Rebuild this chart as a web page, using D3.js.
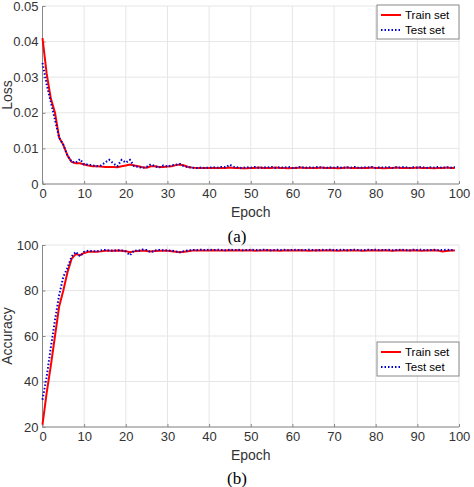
<!DOCTYPE html>
<html><head><meta charset="utf-8">
<script src="https://cdn.jsdelivr.net/npm/d3@7"></script>
<style>body{margin:0;background:#fff}</style>
</head><body>
<script>
var lossTrain = [0.041,0.031,0.024,0.020,0.013,0.011,0.008,0.0062,0.0058,0.0058,0.0055,0.0052,0.0050,0.0050,0.0049,0.0048,0.0048,0.0048,0.0047,0.0050,0.0052,0.0055,0.0052,0.0050,0.0047,0.0046,0.0050,0.0050,0.0048,0.0048,0.0049,0.0050,0.0053,0.0055,0.0052,0.0048,0.0046,0.0045,0.0045,0.0045,0.0045,0.0045,0.0045,0.0045,0.0045,0.0046,0.0045,0.0045,0.0044,0.0044,0.0045,0.0045,0.0046,0.0045,0.0045,0.0045,0.0046,0.0045,0.0045,0.0044,0.0045,0.0045,0.0046,0.0045,0.0045,0.0045,0.0045,0.0046,0.0045,0.0045,0.0045,0.0044,0.0045,0.0046,0.0045,0.0045,0.0045,0.0045,0.0045,0.0046,0.0045,0.0045,0.0044,0.0045,0.0045,0.0046,0.0045,0.0045,0.0045,0.0045,0.0046,0.0045,0.0045,0.0045,0.0044,0.0045,0.0045,0.0046,0.0045,0.0045];
var lossTest = [0.034,0.028,0.023,0.018,0.013,0.011,0.008,0.0062,0.006,0.007,0.0055,0.0055,0.0052,0.005,0.0052,0.006,0.0068,0.0058,0.005,0.0068,0.006,0.0068,0.005,0.0048,0.0045,0.0048,0.0055,0.005,0.0046,0.0052,0.0049,0.0052,0.0054,0.0056,0.005,0.0047,0.0046,0.0045,0.0046,0.0045,0.0046,0.0047,0.0046,0.0048,0.0047,0.0054,0.0048,0.0046,0.0045,0.0047,0.0046,0.0048,0.0045,0.0047,0.0046,0.0048,0.0045,0.0047,0.0046,0.0048,0.0045,0.0046,0.0048,0.0045,0.0047,0.0046,0.0048,0.0046,0.0045,0.0047,0.0046,0.0048,0.0045,0.0047,0.0046,0.0048,0.0045,0.0047,0.0046,0.0048,0.0045,0.0047,0.0046,0.0048,0.0045,0.0047,0.0046,0.0048,0.0045,0.0047,0.0046,0.0048,0.0045,0.0047,0.0046,0.0048,0.0045,0.0047,0.0046,0.0048];
var accTrain = [21,35,47,60,73,80,88,94,96,95.5,96.5,97,97,97,97.2,97.5,97.5,97.5,97.6,97.5,97.3,96.8,97.2,97.4,97.6,97.4,97.2,97.4,97.5,97.5,97.5,97.3,97,96.8,97,97.3,97.6,97.6,97.6,97.6,97.6,97.7,97.6,97.6,97.6,97.7,97.6,97.7,97.6,97.6,97.7,97.5,97.6,97.6,97.7,97.6,97.6,97.5,97.6,97.7,97.6,97.6,97.7,97.6,97.5,97.6,97.7,97.6,97.6,97.7,97.6,97.5,97.6,97.6,97.7,97.6,97.6,97.5,97.6,97.7,97.6,97.6,97.7,97.6,97.5,97.6,97.7,97.6,97.6,97.7,97.6,97.5,97.6,97.6,97.7,97.6,97.2,97.4,97.6,97.6];
var accTest = [32,42,55,67,78,86,90,95,97,95,97,97.5,97.3,97.2,97.6,97.8,97.6,97.5,97.7,97.6,97.2,95.5,97.6,97.4,98,97.8,96.8,97.6,97.8,97.7,97.6,97.5,97.2,96.8,97.3,97.6,97.8,97.7,97.9,97.8,97.9,97.8,97.9,97.8,97.7,97.9,97.8,97.9,97.7,97.8,97.9,97.8,97.7,97.9,97.8,97.6,97.9,97.8,97.9,97.7,97.8,97.9,97.7,97.8,97.9,97.8,97.6,97.9,97.8,97.9,97.7,97.8,97.9,97.7,97.8,97.9,97.8,97.6,97.9,97.8,97.9,97.7,97.8,97.9,97.7,97.8,97.9,97.8,97.6,97.9,97.8,97.9,97.7,97.8,97.9,97.7,97.8,97.9,97.8,97.6];
var xTicks = [0,10,20,30,40,50,60,70,80,90,100];
var lossTicks = [0,0.01,0.02,0.03,0.04,0.05];
var accTicks = [20,40,60,80,100];

var svg = d3.select("body").append("svg").attr("width",474).attr("height",487)
  .style("font-family","'Liberation Sans', Arial, sans-serif");

function panel(top, bottom, yDomain, yTicks, yLabel, train, test, fmt, legendY, caption, captionY){
  var x = d3.scaleLinear().domain([0,100]).range([42.5,459]);
  var y = d3.scaleLinear().domain(yDomain).range([bottom, top]);
  var g = svg.append("g");
  // grid
  g.selectAll(".gx").data(xTicks).enter().append("line")
    .attr("x1",d=>x(d)).attr("x2",d=>x(d)).attr("y1",top).attr("y2",bottom)
    .attr("stroke","#e6e6e6");
  g.selectAll(".gy").data(yTicks).enter().append("line")
    .attr("x1",x(0)).attr("x2",x(100)).attr("y1",d=>y(d)).attr("y2",d=>y(d))
    .attr("stroke","#e6e6e6");
  var xa = g.append("g").attr("transform","translate(0,"+bottom+")")
    .call(d3.axisBottom(x).tickValues(xTicks).tickSize(-3).tickPadding(5));
  var ya = g.append("g").attr("transform","translate("+x(0)+",0)")
    .call(d3.axisLeft(y).tickValues(yTicks).tickFormat(fmt).tickSize(-3).tickPadding(4));
  [xa,ya].forEach(function(a){
    a.selectAll("path,line").attr("stroke","#888");
    a.selectAll("text").attr("fill","#333").attr("font-size",13).attr("font-family","'Liberation Sans', Arial, sans-serif");
  });
  xa.select(".domain").remove();
  ya.select(".domain").remove();
  g.append("line").attr("x1",x(0)).attr("x2",x(100)).attr("y1",bottom).attr("y2",bottom).attr("stroke","#888");
  g.append("line").attr("x1",x(0)).attr("x2",x(0)).attr("y1",top).attr("y2",bottom).attr("stroke","#888");

  var line = d3.line().x((d,i)=>x(i)).y(d=>y(d));
  g.append("path").datum(train).attr("d",line).attr("fill","none").attr("stroke","#ff0000").attr("stroke-width",2);
  g.append("path").datum(test).attr("d",line).attr("fill","none").attr("stroke","#0000cc").attr("stroke-width",2).attr("stroke-dasharray","1.5,2");

  g.append("text").attr("transform","translate(12,"+((top+bottom)/2)+") rotate(-90)")
    .attr("text-anchor","middle").attr("font-size",14).attr("fill","#333").text(yLabel);
  g.append("text").attr("x",(x(0)+x(100))/2).attr("y",bottom+33).attr("text-anchor","middle")
    .attr("font-size",14).attr("fill","#333").text("Epoch");
  g.append("text").attr("x",237).attr("y",captionY).attr("text-anchor","middle")
    .attr("font-size",17).attr("font-family","'Liberation Serif', 'Times New Roman', serif").text(caption);

  var lg = g.append("g").attr("transform","translate(377,"+legendY+")");
  lg.append("rect").attr("width",82).attr("height",34).attr("fill","#fff").attr("stroke","#888");
  lg.append("line").attr("x1",4).attr("x2",24).attr("y1",10).attr("y2",10).attr("stroke","#ff0000").attr("stroke-width",2);
  lg.append("line").attr("x1",4).attr("x2",24).attr("y1",25).attr("y2",25).attr("stroke","#0000cc").attr("stroke-width",2).attr("stroke-dasharray","1.5,2");
  lg.append("text").attr("x",28).attr("y",14).attr("font-size",11.5).text("Train set");
  lg.append("text").attr("x",28).attr("y",29).attr("font-size",11.5).text("Test set");
}

panel(6, 184, [0,0.05], lossTicks, "Loss", lossTrain, lossTest, d=>d===0?"0":d3.format(".2f")(d), 5, "(a)", 242);
panel(245, 427, [20,100], accTicks, "Accuracy", accTrain, accTest, d3.format("d"), 342, "(b)", 484);
</script>
</body></html>
